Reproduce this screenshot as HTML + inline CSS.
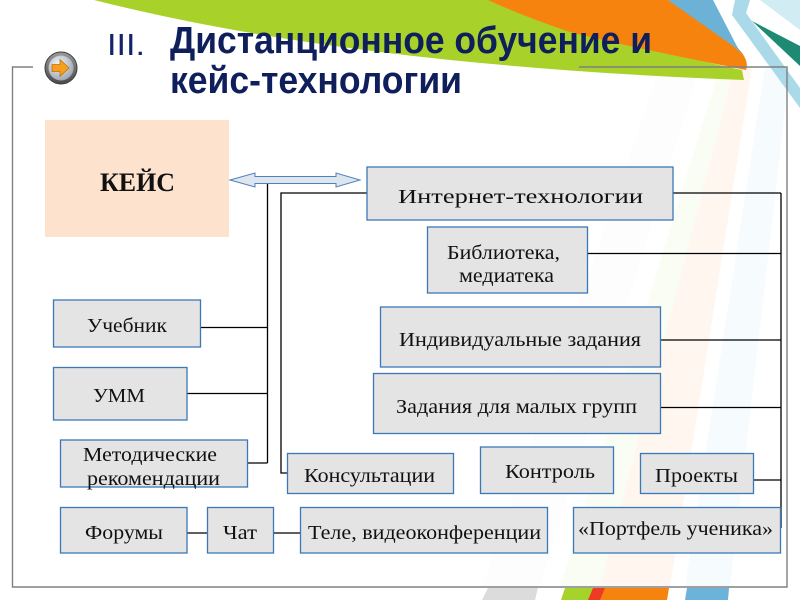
<!DOCTYPE html>
<html>
<head>
<meta charset="utf-8">
<style>
  html,body{margin:0;padding:0;background:#fff;}
  svg{display:block;}
  .bx{fill:#e4e4e4;stroke:#3a78b8;stroke-width:1.3;}
  .t{font-family:"Liberation Serif","Noto Serif CJK SC",serif;font-size:20px;fill:#111;}
  .ln{stroke:#000;stroke-width:1.3;fill:none;}
  .fr{stroke:#808080;stroke-width:1.4;fill:none;}
</style>
</head>
<body>
<svg width="800" height="600" viewBox="0 0 800 600" xmlns="http://www.w3.org/2000/svg">
  <defs>
    <radialGradient id="ig" cx="40%" cy="35%" r="70%">
      <stop offset="0" stop-color="#f4f6fa"/>
      <stop offset="1" stop-color="#9aa3b0"/>
    </radialGradient>
    <linearGradient id="ring" x1="0" y1="0" x2="0" y2="1">
      <stop offset="0" stop-color="#9a9a9a"/>
      <stop offset="1" stop-color="#4a4a4a"/>
    </linearGradient>
  </defs>
  <rect width="800" height="600" fill="#fff"/>

  <!-- faint background stripes -->
  <polygon points="560,587 600,587 735,67 720,67" fill="#a6d22c" opacity="0.05"/>
  <polygon points="600,587 670,587 752,67 735,67" fill="#f6851f" opacity="0.07"/>
  <polygon points="685,587 730,587 790,67 765,67" fill="#6cb3d9" opacity="0.06"/>
  <polygon points="482,587 540,587 700,67 660,67" fill="#c8c8c8" opacity="0.04"/>

  <!-- top decorative swooshes -->
  <path d="M94,0 L492,0 Q560,30 742,70 L744,80 Q350,65 94,0 Z" fill="#a8d22a"/>
  <path d="M488,0 L668,0 L736,46 Q750,60 746,70 Q620,45 570,32 Q520,15 488,0 Z" fill="#f7830f"/>
  <polygon points="668,0 713,0 742,56 736,48" fill="#6bb2d6"/>
  <polygon points="735,0 750,0 746,13 800,88 800,108 732,15" fill="#aad9ea"/>
  <polygon points="760,0 800,0 800,30" fill="#d2ecf4"/>
  <polygon points="752,21 800,46 800,66" fill="#1e8a74"/>

  <!-- bottom strips -->
  <polygon points="488,588 538,588 535,600 482,600" fill="#dcdcdc"/>
  <polygon points="565,588 593,588 590,600 561,600" fill="#a6d22c"/>
  <polygon points="593,588 605,588 602,600 588,600" fill="#ee3c23"/>
  <polygon points="605,588 669,588 667,600 600,600" fill="#f7830f"/>
  <polygon points="687,588 729,588 728,600 685,600" fill="#6cb3d9"/>

  <!-- frame -->
  <polyline class="fr" points="33,67 12.5,67 12.5,587 787,587 787,67 579,67"/>

  <!-- icon -->
  <circle cx="61" cy="68" r="16" fill="url(#ring)" stroke="#3c3c3c" stroke-width="1"/>
  <circle cx="61" cy="68" r="12.5" fill="url(#ig)"/>
  <path d="M52,64.5 L60,64.5 L60,59.5 L69,68 L60,76.5 L60,71.5 L52,71.5 Z" fill="#f5a020" stroke="#c87000" stroke-width="0.8"/>

  <!-- title -->
  <text x="107" y="55" font-family="Liberation Sans, sans-serif" font-size="31" fill="#14246a" textLength="38" lengthAdjust="spacingAndGlyphs">III.</text>
  <text x="170" y="53" font-family="Liberation Sans, sans-serif" font-weight="bold" font-size="38" fill="#0f1f5c" textLength="482" lengthAdjust="spacingAndGlyphs">Дистанционное обучение и</text>
  <text x="170" y="93" font-family="Liberation Sans, sans-serif" font-weight="bold" font-size="38" fill="#0f1f5c" textLength="292" lengthAdjust="spacingAndGlyphs">кейс-технологии</text>

  <!-- КЕЙС -->
  <rect x="45" y="120" width="184" height="117" fill="#fde3cd"/>
  <text x="100" y="191" font-family="Liberation Serif, serif" font-weight="bold" font-size="26" fill="#111" textLength="75" lengthAdjust="spacingAndGlyphs">КЕЙС</text>

  <!-- double arrow -->
  <path d="M230,180 L255,173 L255,176.5 L336,176.5 L336,173 L360,180 L336,187 L336,183.5 L255,183.5 L255,187 Z" fill="#dde5ee" stroke="#4f81bd" stroke-width="1"/>

  <!-- connectors left -->
  <line class="ln" x1="267.5" y1="184" x2="267.5" y2="463"/>
  <line class="ln" x1="200" y1="327.5" x2="267.5" y2="327.5"/>
  <line class="ln" x1="187" y1="393.5" x2="267.5" y2="393.5"/>
  <line class="ln" x1="247" y1="463" x2="267.5" y2="463"/>
  <polyline class="ln" points="367,193 281,193 281,473 287,473"/>

  <!-- connectors right -->
  <line class="ln" x1="781" y1="193" x2="781" y2="528"/>
  <line class="ln" x1="673" y1="193" x2="781" y2="193"/>
  <line class="ln" x1="587" y1="253.5" x2="781" y2="253.5"/>
  <line class="ln" x1="661" y1="340" x2="781" y2="340"/>
  <line class="ln" x1="661" y1="407.5" x2="781" y2="407.5"/>
  <line class="ln" x1="753" y1="480" x2="781" y2="480"/>

  <!-- bottom connectors -->
  <line class="ln" x1="187" y1="533" x2="207" y2="533"/>
  <line class="ln" x1="273" y1="533" x2="300" y2="533"/>

  <!-- boxes -->
  <rect class="bx" x="367" y="167" width="306" height="53"/>
  <text class="t" x="398" y="203" font-size="25" textLength="245" lengthAdjust="spacingAndGlyphs">Интернет-технологии</text>

  <rect class="bx" x="427.5" y="227" width="160" height="66"/>
  <text class="t" x="447" y="259" textLength="113" lengthAdjust="spacingAndGlyphs">Библиотека,</text>
  <text class="t" x="459" y="282" textLength="95" lengthAdjust="spacingAndGlyphs">медиатека</text>

  <rect class="bx" x="380.5" y="307" width="280" height="60"/>
  <text class="t" x="399" y="346" textLength="242" lengthAdjust="spacingAndGlyphs">Индивидуальные задания</text>

  <rect class="bx" x="373.5" y="373.5" width="287" height="60"/>
  <text class="t" x="396" y="413" textLength="241" lengthAdjust="spacingAndGlyphs">Задания для малых групп</text>

  <rect class="bx" x="53.5" y="300" width="147" height="47"/>
  <text class="t" x="87" y="332" textLength="80" lengthAdjust="spacingAndGlyphs">Учебник</text>

  <rect class="bx" x="53.5" y="367.5" width="133.5" height="52.5"/>
  <text class="t" x="93" y="402" textLength="52" lengthAdjust="spacingAndGlyphs">УММ</text>

  <rect class="bx" x="60.5" y="440" width="187" height="47"/>
  <text class="t" x="83" y="461" textLength="134" lengthAdjust="spacingAndGlyphs">Методические</text>
  <text class="t" x="87" y="485" textLength="133" lengthAdjust="spacingAndGlyphs">рекомендации</text>

  <rect class="bx" x="60.5" y="507.5" width="126.5" height="45.5"/>
  <text class="t" x="85" y="539" textLength="78" lengthAdjust="spacingAndGlyphs">Форумы</text>

  <rect class="bx" x="207.5" y="507.5" width="66" height="45.5"/>
  <text class="t" x="223" y="539" textLength="34" lengthAdjust="spacingAndGlyphs">Чат</text>

  <rect class="bx" x="300.5" y="507.5" width="247" height="45.5"/>
  <text class="t" x="308" y="539" textLength="233" lengthAdjust="spacingAndGlyphs">Теле, видеоконференции</text>

  <rect class="bx" x="287.5" y="453.5" width="166" height="40"/>
  <text class="t" x="304" y="482" textLength="131" lengthAdjust="spacingAndGlyphs">Консультации</text>

  <rect class="bx" x="480.5" y="447" width="133" height="46.5"/>
  <text class="t" x="505" y="478" textLength="90" lengthAdjust="spacingAndGlyphs">Контроль</text>

  <rect class="bx" x="640.5" y="453.5" width="113" height="40"/>
  <text class="t" x="655" y="482" textLength="83" lengthAdjust="spacingAndGlyphs">Проекты</text>

  <rect class="bx" x="573.5" y="507.5" width="207" height="45.5"/>
  <text class="t" x="578" y="535" textLength="195" lengthAdjust="spacingAndGlyphs">«Портфель ученика»</text>
</svg>
</body>
</html>
